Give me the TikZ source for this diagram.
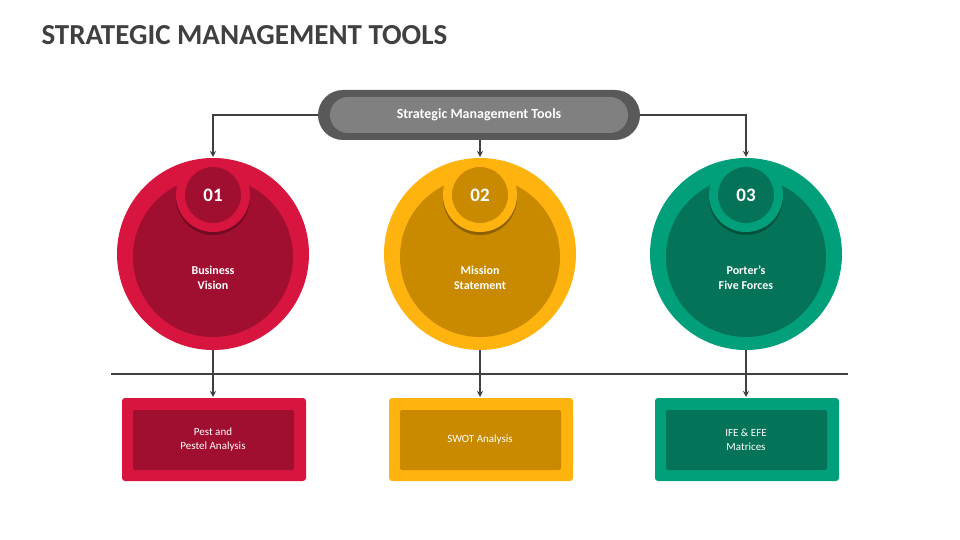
\documentclass[tikz,border=0pt]{standalone}
\usepackage{fontspec}
\setmainfont{Carlito}
\usetikzlibrary{arrows.meta}
\definecolor{rO}{HTML}{D7153F}\definecolor{rI}{HTML}{A10F30}
\definecolor{yO}{HTML}{FFB30F}\definecolor{yI}{HTML}{C98A00}
\definecolor{gO}{HTML}{02A07A}\definecolor{gI}{HTML}{047357}
\definecolor{dk}{HTML}{404040}
\tikzset{conn/.style={draw=dk,line width=1.5pt,-{Stealth[length=6pt,width=6pt]}},
 lbl/.style={text=white,font=\bfseries\fontsize{12}{15}\selectfont,align=center},
 blbl/.style={text=white,font=\fontsize{11}{14}\selectfont,align=center}}
\begin{document}
\begin{tikzpicture}[x=1pt,y=-1pt]
\useasboundingbox (0,0) rectangle (960,540);
\fill[white] (0,0) rectangle (960,540);
\node[anchor=west,text=dk,font=\bfseries\fontsize{29}{32}\selectfont] (title) at (38,35) {STRATEGIC MANAGEMENT TOOLS};
% pill
\fill[rounded corners=25pt,fill=black!65] (318,90) rectangle (640,140);
\fill[rounded corners=18pt,fill=black!50] (330,97) rectangle (628,133);
\node[text=white,font=\bfseries\fontsize{14}{16}\selectfont] (top) at (479,115) {Strategic Management Tools};
\coordinate (pl) at (318,115); \coordinate (pr) at (640,115); \coordinate (pb) at (480,140);
\draw[draw=dk,line width=1.5pt] (111,374) -- (848,374);
\foreach \x/\o/\i/\n/\t/\b [count=\k] in {213/rO/rI/01/{Business\\Vision}/{Pest and\\Pestel Analysis},480/yO/yI/02/{Mission\\Statement}/{SWOT Analysis},746/gO/gI/03/{Porter’s\\Five Forces}/{IFE \& EFE\\Matrices}}{
 \fill[\o] (\x,254) circle (96);
 \fill[\i] (\x,257) circle (80);
 \fill[\i!70!black] (\x,198) circle (37);
 \fill[\o] (\x,195) circle (37);
 \fill[\i] (\x,195) circle (28);
 \node[text=white,font=\bfseries\fontsize{19}{22}\selectfont] (n\k) at (\x,195) {\n};
 \node[lbl] (c\k) at (\x,278) {\t};
 \coordinate (cb\k) at (\x,350); \coordinate (ct\k) at (\x,157);
 \fill[\o,rounded corners=3pt] (\x-91,398) rectangle (\x+93,481);
 \fill[\i,rounded corners=2pt] (\x-80,410) rectangle (\x+81,470);
 \node[blbl] (b\k) at (\x,440) {\b};
 \coordinate (bt\k) at (\x,397);
 \draw[conn] (cb\k) -- (bt\k);
}
\draw[conn] (pl) -| (ct1);
\draw[conn] (pb) -- (ct2);
\draw[conn] (pr) -| (ct3);
\end{tikzpicture}
\end{document}
